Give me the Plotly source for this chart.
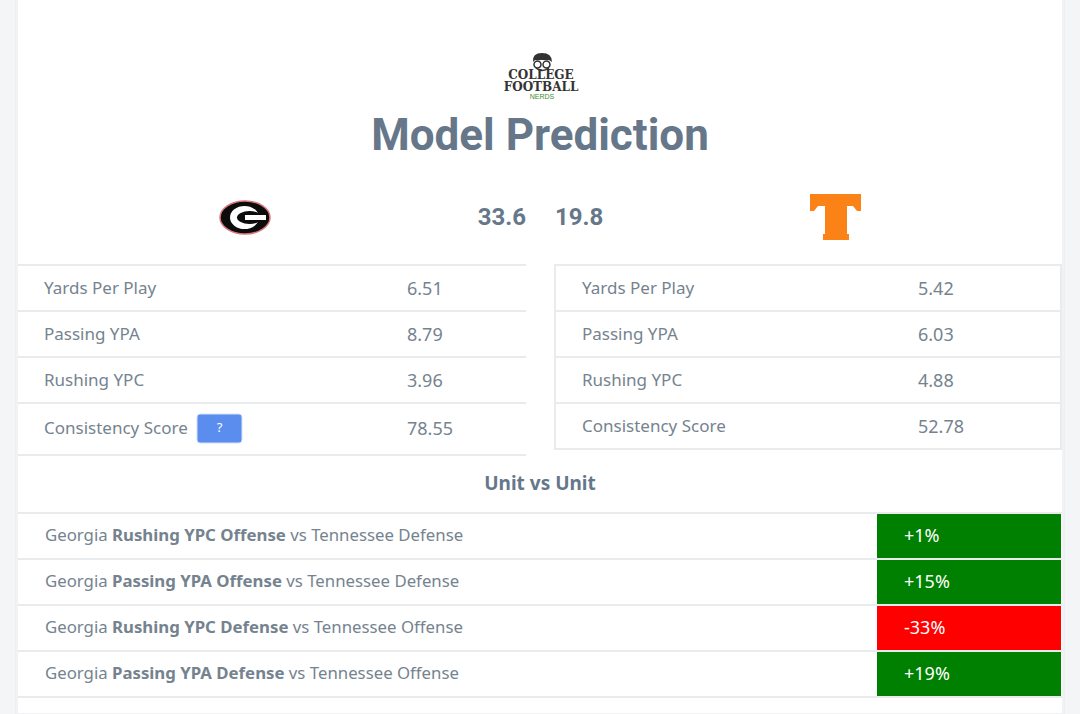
import plotly.graph_objects as go

stat_labels = ["Yards Per Play", "Passing YPA", "Rushing YPC", "Consistency Score"]
georgia_stats = ["6.51", "8.79", "3.96", "78.55"]
tennessee_stats = ["5.42", "6.03", "4.88", "52.78"]
georgia_score = "33.6"
tennessee_score = "19.8"

unit_teams = ["Georgia", "Georgia", "Georgia", "Georgia"]
unit_names = ["Rushing YPC Offense", "Passing YPA Offense", "Rushing YPC Defense", "Passing YPA Defense"]
unit_opponents = ["Tennessee Defense", "Tennessee Defense", "Tennessee Offense", "Tennessee Offense"]
unit_edges = [1, 15, -33, 19]

TEXT = "#75838f"
DARK = "#66778a"
BODY = "Noto Sans"

left_rows = [290, 336, 382, 430]
right_rows = [290, 336, 382, 428]
unit_rows = [537, 583, 629, 675]
cell_rows = [536, 582, 628, 674]

fig = go.Figure()

# page background + card shadow
fig.add_shape(type="rect", x0=0, x1=1080, y0=0, y1=714, fillcolor="#f3f5f6", line_width=0, layer="below")
for i, c in enumerate(["#eceef0", "#f0f2f3"]):
    fig.add_shape(type="rect", x0=15 + i, x1=1065 - i, y0=0, y1=714, fillcolor=c, line_width=0, layer="below")
fig.add_shape(type="rect", x0=18, x1=1062, y0=0, y1=713, fillcolor="white", line_width=0, layer="below")


def hline(y, x0, x1, color="#e9ecef", w=2):
    fig.add_shape(type="line", x0=x0, x1=x1, y0=y, y1=y, line=dict(color=color, width=w), layer="below")


# left table
for y in [265, 311, 357, 403, 455]:
    hline(y, 18, 526)
# right table, has an outline
for y in [265, 311, 357, 403, 449]:
    hline(y, 555, 1062)
fig.add_shape(type="line", x0=555, x1=555, y0=264, y1=450, line=dict(color="#e9ecef", width=2), layer="below")
fig.add_shape(type="line", x0=1061, x1=1061, y0=264, y1=450, line=dict(color="#e9ecef", width=2), layer="below")
# unit table
for y in [513, 559, 605, 651, 697]:
    hline(y, 18, 1062)

# unit edge cells
fig.add_trace(go.Bar(
    y=cell_rows,
    x=[184] * len(unit_edges),
    base=877,
    width=44,
    orientation="h",
    marker=dict(color=["green" if v > 0 else "red" for v in unit_edges], line_width=0),
    hoverinfo="skip",
))

# the ? button
fig.add_shape(type="path", path="M200,414 L239,414 Q242,414 242,417 L242,440 Q242,443 239,443 L200,443 Q197,443 197,440 L197,417 Q197,414 200,414 Z",
              fillcolor="#5a8dee", line=dict(color="#d5e2f8", width=1), layer="below")

# Tennessee T
fig.add_shape(type="path",
              path="M810,194 L861,194 L861,211 L857,211 L853,206 L847,206 L847,234 L849,234 L849,240 L823,240 L823,234 L825,234 L825,206 L818,206 L814,211 L810,211 Z",
              fillcolor="#fb8217", line_width=0)

# Georgia G
fig.add_shape(type="circle", x0=220, x1=270, y0=201, y1=234, fillcolor="#0c0c0c", line=dict(color="#d9757c", width=1.5))
fig.add_shape(type="circle", x0=230, x1=259, y0=206, y1=229, fillcolor="white", line_width=0)
fig.add_shape(type="circle", x0=237, x1=262, y0=211, y1=224, fillcolor="#0c0c0c", line_width=0)
fig.add_shape(type="rect", x0=245, x1=266, y0=215, y1=220, fillcolor="white", line_width=0)

# site logo, head and glasses
fig.add_shape(type="path", path="M533,62 Q532,53 542,53 Q552,53 552,62 L549,60 L535,60 Z", fillcolor="#333333", line_width=0)
fig.add_shape(type="circle", x0=534, x1=541, y0=61, y1=68, fillcolor="white", line=dict(color="#333333", width=1.5))
fig.add_shape(type="circle", x0=543, x1=550, y0=61, y1=68, fillcolor="white", line=dict(color="#333333", width=1.5))
fig.add_shape(type="path", path="M536,68 Q542,73 549,68", line=dict(color="#333333", width=1.5))


def add_text(x, y, text, size, color, pos="middle right", family=BODY):
    fig.add_trace(go.Scatter(
        x=x, y=y, text=text, mode="text", textposition=pos,
        textfont=dict(size=size, color=color, family=family),
        hoverinfo="skip", cliponaxis=False,
    ))


add_text([541], [76], ["<b>COLLEGE</b>"], 12, "#333333", "middle center", "DejaVu Serif")
add_text([541], [88], ["<b>FOOTBALL</b>"], 12, "#333333", "middle center", "DejaVu Serif")
add_text([542], [97], ["NERDS"], 7, "#3d8f2e", "middle center", "Liberation Sans")
add_text([540], [139], ["<b>Model Prediction</b>"], 44, DARK, "middle center", "Roboto")
add_text([526], [219], ["<b>" + georgia_score + "</b>"], 24, DARK, "middle left", "Roboto")
add_text([555], [219], ["<b>" + tennessee_score + "</b>"], 24, DARK, "middle right", "Roboto")

add_text([44] * 4, left_rows, stat_labels, 17, TEXT)
add_text([407] * 4, left_rows, georgia_stats, 18, TEXT)
add_text([582] * 4, right_rows, stat_labels, 17, TEXT)
add_text([918] * 4, right_rows, tennessee_stats, 18, TEXT)
add_text([219.5], [429], ["?"], 13, "white", "middle center")

add_text([540], [485], ["<b>Unit vs Unit</b>"], 19, DARK, "middle center")

unit_text = [t + " <b>" + n + "</b> vs " + o for t, n, o in zip(unit_teams, unit_names, unit_opponents)]
add_text([45] * 4, unit_rows, unit_text, 16.8, TEXT)
add_text([904] * 4, unit_rows, [f"{v:+d}%" for v in unit_edges], 18, "white")

fig.update_layout(
    width=1080,
    height=714,
    margin=dict(l=0, r=0, t=0, b=0),
    showlegend=False,
    paper_bgcolor="white",
    plot_bgcolor="white",
    bargap=0,
    xaxis=dict(range=[0, 1080], visible=False, fixedrange=True),
    yaxis=dict(range=[714, 0], visible=False, fixedrange=True),
)

fig.write_html("out.html", config={"displayModeBar": False},
               post_script="document.body.style.margin='0';document.body.style.overflow='hidden';")
